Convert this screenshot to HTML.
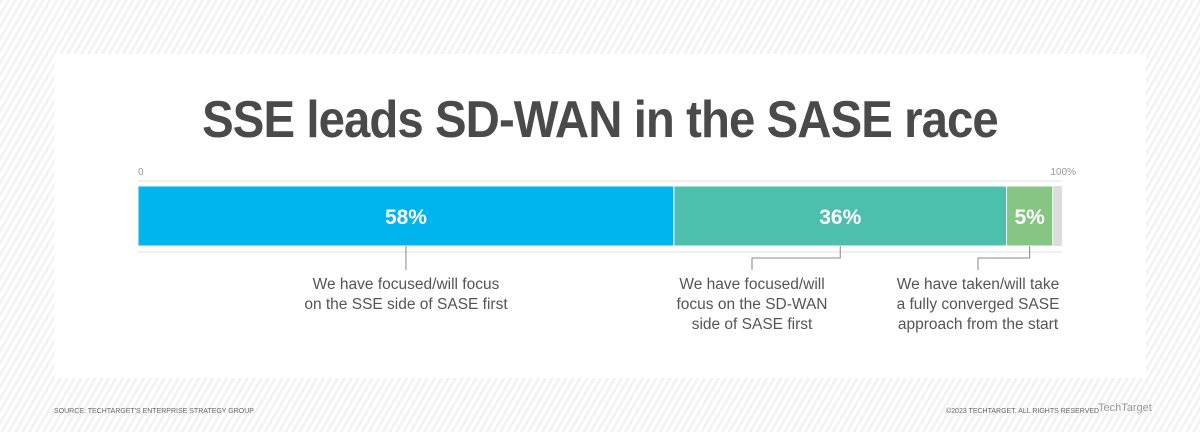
<!DOCTYPE html>
<html><head><meta charset="utf-8"><style>
html,body{margin:0;padding:0}
body{width:1200px;height:432px;position:relative;overflow:hidden;font-family:"Liberation Sans",sans-serif;
background:repeating-linear-gradient(120deg,#f3f3f3 0 3px,#ffffff 3px 6px);}
#panel{position:absolute;left:54px;top:54px;width:1092px;height:324px;background:#fff}
#title{position:absolute;left:0;top:90px;width:1200px;text-align:center;font-weight:bold;font-size:52px;color:#4a4a4a;letter-spacing:-1px;transform:scaleX(0.91);transform-origin:600px 0}
.foot{position:absolute;font-size:7px;color:#666;top:408px}
</style></head><body>
<div id="panel"></div>
<div id="title">SSE leads SD-WAN in the SASE race</div>
<svg id="chart" width="1200" height="432" style="position:absolute;left:0;top:0"></svg>
<div class="foot" style="left:54px">SOURCE: TECHTARGET'S ENTERPRISE STRATEGY GROUP</div>
<div class="foot" style="left:946px">©2023 TECHTARGET. ALL RIGHTS RESERVED</div>
<div style="position:absolute;left:1098px;top:402px;font-size:11px;color:#999">TechTarget</div>
<script>
const categories=["We have focused/will focus|on the SSE side of SASE first","We have focused/will|focus on the SD-WAN|side of SASE first","We have taken/will take|a fully converged SASE|approach from the start"];
const values=[58,36,5];
const colors=["#00b5ed","#4dc0ad","#86c583"];
const labelCenters=[406,752,978];
const ns="http://www.w3.org/2000/svg";
const svg=document.getElementById('chart');
const x0=138,x1=1062,y0=186,y1=246;
const xs=v=>x0+v/100*(x1-x0);
function mk(t,a,p){const e=document.createElementNS(ns,t);for(const k in a)e.setAttribute(k,a[k]);(p||svg).appendChild(e);return e;}
let l=mk('line',{x1:x0,x2:x1,y1:181,y2:181,stroke:'#e2e2e2'});


l=mk('line',{x1:x0,x2:x1,y1:252,y2:252,stroke:'#e2e2e2'});


let t=mk('text',{x:x0,y:175,'font-size':10,fill:'#999'});t.textContent='0';


t=mk('text',{x:x1+14,y:175,'font-size':10,fill:'#999','text-anchor':'end'});t.textContent='100%';


let bg=mk('rect',{x:x0,y:y0,width:x1-x0,height:y1-y0,fill:'#dcdcdc'});


let cum=0;
values.forEach((v,i)=>{
 const a=xs(cum),b=xs(cum+v);cum+=v;
 const r=mk('rect',{x:a,y:y0,width:b-a,height:y1-y0,fill:colors[i],stroke:'#fff','stroke-width':1});
 
 
 const mid=(a+b)/2;
 const tx=mk('text',{x:mid,y:224,'font-size':21,'font-weight':'bold',fill:'#fff','text-anchor':'middle'});
 tx.textContent=v+'%';
 
 
 const lc=labelCenters[i];
 const pts=Math.abs(lc-mid)<2?`${mid},${y1} ${mid},270`:`${mid},${y1} ${mid},258 ${lc},258 ${lc},270`;
 const pl=mk('polyline',{points:pts,fill:'none',stroke:'#888','stroke-width':1});
 
 
 const lines=categories[i].split('|');
 const ct=mk('text',{'font-size':15.5,fill:'#555','text-anchor':'middle'});
 
 
 lines.forEach((s,j)=>{const sp=mk('tspan',{x:lc,y:289+j*20},ct);sp.textContent=s;});
});
</script>
</body></html>
